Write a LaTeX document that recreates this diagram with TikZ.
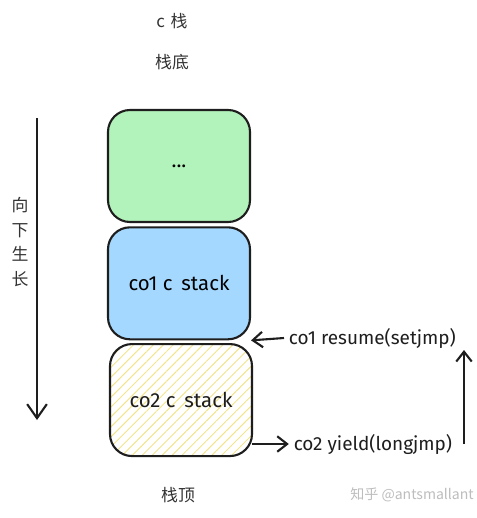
\documentclass[tikz,border=0pt]{standalone}
\usepackage{fontspec}
\setmainfont{Fira Sans}
\newfontfamily\cjk{Noto Sans CJK SC}
\usetikzlibrary{arrows.meta, positioning, patterns.meta}

\definecolor{inkc}{HTML}{1E1E1E}
\definecolor{greenfill}{HTML}{B2F2BB}
\definecolor{bluefill}{HTML}{A5D8FF}
\definecolor{hatchc}{HTML}{F2E38C}
\definecolor{markc}{HTML}{BDBDBD}

\tikzset{
    stackbox/.style = {draw=inkc, line width=1.5pt, rounded corners=0.55cm,
        minimum width=3.55cm, minimum height=2.8cm, font=\fontsize{14.5}{16}\selectfont},
    hand/.style = {font=\fontsize{14.5}{16}\selectfont, text=inkc},
    jumplabel/.style = {font=\fontsize{13.5}{15}\selectfont, text=inkc, anchor=west},
    cjklabel/.style = {font=\cjk\fontsize{12}{14}\selectfont, text=black!80},
    arrow/.style = {draw=inkc, line width=1.5pt, -{Straight Barb[length=7pt, width=11pt, line width=1.5pt]}}
}

\begin{document}
\begin{tikzpicture}[node distance = 0.08cm]
    \useasboundingbox (0,0) rectangle (11.925,-12.95);

        \node (title) [cjklabel] at (4.3,-0.525) {c\,\,栈};
        \node (bottom) [cjklabel] at (4.3,-1.55) {栈底};
        \node (top) [cjklabel] at (4.45,-12.375) {栈顶};

        \node (older) [stackbox, fill=greenfill] at (4.475,-4.15) {...};
        \node (co1) [stackbox, fill=bluefill, below = of older] {co1 c\, stack};
        \node (co2) [stackbox, below = of co1, xshift=0.05cm,
            pattern={Lines[angle=45, distance=5pt, line width=0.7pt]}, pattern color=hatchc] {};
        \node (co2txt) [hand] at (co2) {co2 c\, stack};

        \node (grow) [cjklabel, align=center, font=\cjk\fontsize{12}{17.7}\selectfont] at (0.5,-6.05)
            {向\\下\\生\\长};
        \coordinate (growtop) at (0.925,-2.95);
        \coordinate (growend) at (0.925,-10.5);

        \node (resume) [jumplabel] at (7.1,-8.45) {co1 resume(setjmp)};
        \node (yield) [jumplabel] at (7.22,-11.1) {co2 yield(longjmp)};
        \coordinate (upstart) at (11.6,-11.1);
        \coordinate (upend) at (11.6,-8.75);

        \node (mark) [font=\cjk\fontsize{10}{12}\selectfont, text=markc] at (10.3,-12.375) {知乎 @antsmallant};

        \path
            (growtop) edge [arrow, -{Straight Barb[length=10pt, width=14pt, line width=1.5pt]}] (growend)
            (resume.west) edge [arrow] (co1.south east)
            (co2.east |- yield) edge [arrow] (yield.west)
            (upstart) edge [arrow] (upend);

    \end{tikzpicture}
\end{document}
